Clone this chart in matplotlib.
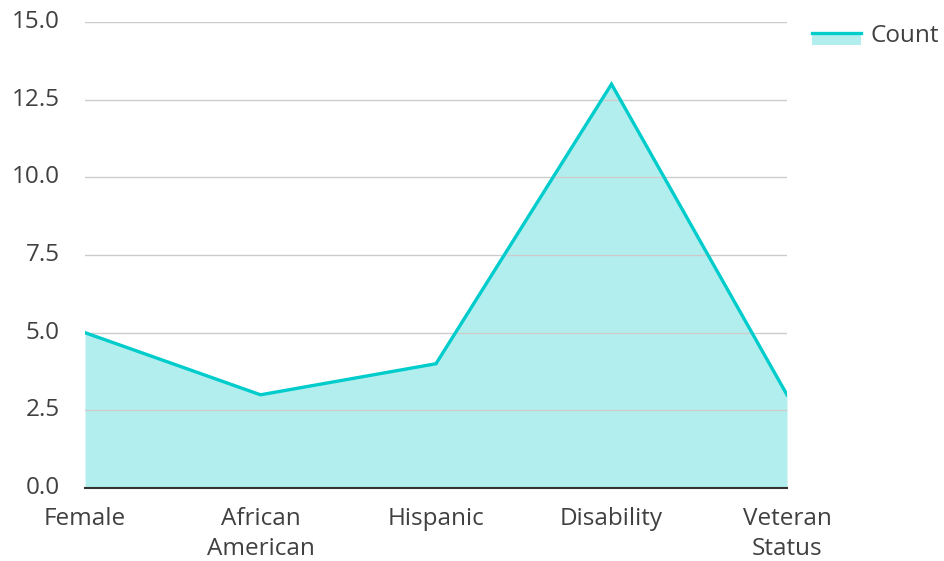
import matplotlib
matplotlib.use("Agg")
import matplotlib.pyplot as plt
from matplotlib.patches import Rectangle
from matplotlib.lines import Line2D

categories = ["Female", "African\nAmerican", "Hispanic", "Disability", "Veteran\nStatus"]
counts = [5, 3, 4, 13, 3]
yticks = [0, 2.5, 5, 7.5, 10, 12.5, 15]

LINE = "#00cccc"
FILL = "#b2eeee"
TEXT = "#404040"
W, H = 945, 561

plt.rcParams["font.family"] = ["Open Sans", "DejaVu Sans"]

fig = plt.figure(figsize=(W / 100, H / 100), dpi=100)
ax = fig.add_axes([85 / W, 73 / H, 702 / W, 466 / H])

x = list(range(len(categories)))
ax.fill_between(x, counts, 0, color=FILL, lw=0, zorder=1)
ax.plot(x, counts, color=LINE, lw=2.4, zorder=3, solid_joinstyle="miter")

ax.set_xlim(0, len(categories) - 1)
ax.set_ylim(0, 15)
ax.set_yticks(yticks)
ax.set_yticklabels([f"{v:.1f}" for v in yticks])
ax.set_xticks(x)
ax.set_xticklabels(categories, linespacing=1.3)
ax.tick_params(length=0, labelsize=17.5, colors=TEXT)
ax.tick_params(axis="y", pad=18)
ax.tick_params(axis="x", pad=14)
for lab in ax.get_yticklabels():
    lab.set_verticalalignment("center")

ax.grid(axis="y", color="#cccccc", lw=1, zorder=2)
for s in ["top", "right", "left"]:
    ax.spines[s].set_visible(False)
ax.spines["bottom"].set_color("#333333")
ax.spines["bottom"].set_linewidth(1.5)
ax.spines["bottom"].set_zorder(4)

# legend drawn by hand: filled swatch with the line along its top edge
fig.add_artist(Rectangle((812 / W, 1 - 45 / H), 49 / W, 12 / H,
                         facecolor=FILL, edgecolor="none", transform=fig.transFigure))
fig.add_artist(Line2D([812 / W, 861 / W], [1 - 33 / H, 1 - 33 / H],
                      color=LINE, lw=2.4, transform=fig.transFigure))
fig.text(871 / W, 1 - 33 / H, "Count", fontsize=17.5, color=TEXT,
         ha="left", va="center_baseline")

fig.savefig("out.png", dpi=100)
